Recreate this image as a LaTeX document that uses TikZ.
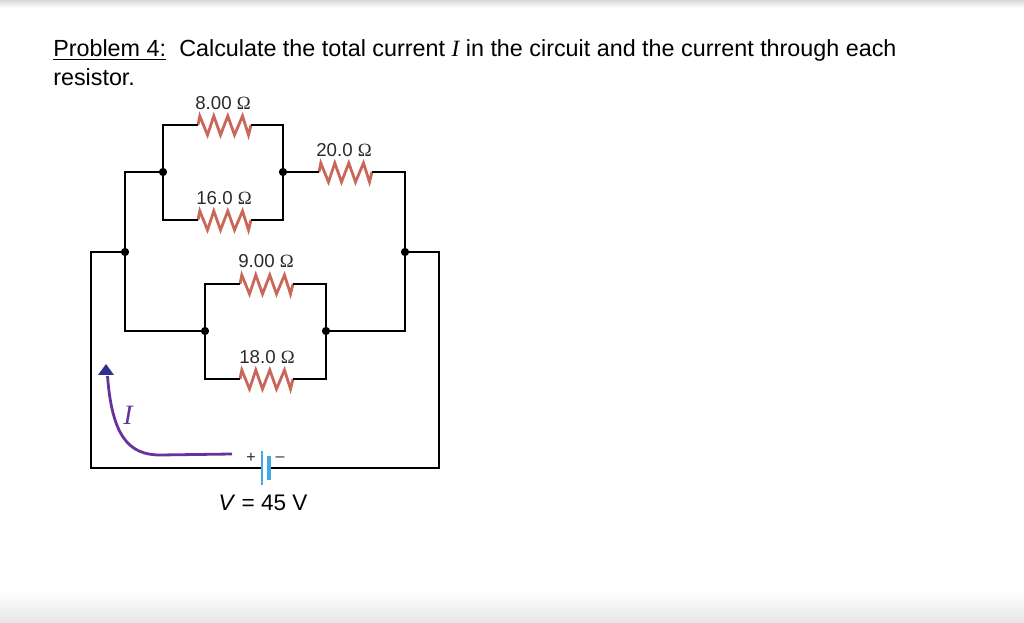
\documentclass[tikz,border=0pt]{standalone}
\usepackage{fontspec}
\setmainfont{Liberation Sans}
\newfontfamily\seriffont{Liberation Serif}
\definecolor{wirered}{HTML}{C9685A}
\definecolor{batblue}{HTML}{45A9E1}
\definecolor{curpurple}{HTML}{66329C}
\definecolor{tipblue}{HTML}{2E3192}
\definecolor{labelgray}{HTML}{2A2A2A}
\begin{document}
\begin{tikzpicture}
    [x=0.75pt,y=-0.75pt,
    title/.style={anchor=base west,inner sep=0pt,font=\fontsize{17.5}{20}\selectfont},
    value/.style={inner sep=0pt,text=labelgray,font=\fontsize{14}{16}\selectfont},
    junction/.style={circle,fill=black,inner sep=0pt,minimum size=6.2pt},
    wire/.style={draw,line width=1.5pt,line join=miter},
    plate/.style={fill=batblue,inner sep=0pt},
    sign/.style={inner sep=0pt,text=labelgray,font=\fontsize{12}{14}\selectfont},
    zig/.pic={\draw[wirered,line width=2.1pt,line join=miter]
      (0,0) -- (1.8,-9) -- (9.5,10) -- (15.8,-9) -- (22.5,10) -- (29.8,-9)
      -- (36.5,10) -- (44.5,-9) -- (50.5,10) -- (53,0);}]

    \useasboundingbox (0,0) rectangle (1024,623);
    \shade[top color=black!15,bottom color=white] (0,0) rectangle (1024,8);
    \shade[top color=white,bottom color=black!10] (0,590) rectangle (1024,623);

    \node[title] (problem) at (53,57) {\underline{Problem 4:}};
    \node[title] (question) at (179,57) {Calculate the total current {\seriffont\itshape I} in the circuit and the current through each};
    \node[title] (resistor) at (53,86) {resistor.};

    \node[junction] (jA) at (163,172) {};
    \node[junction] (jB) at (283,172) {};
    \node[junction] (jC) at (125,252) {};
    \node[junction] (jD) at (405,252) {};
    \node[junction] (jE) at (205,331) {};
    \node[junction] (jF) at (326,331) {};

    \coordinate (r8in) at (198,125);
    \coordinate (r8out) at (251,125);
    \coordinate (r16in) at (198,220);
    \coordinate (r16out) at (251,220);
    \coordinate (r20in) at (319,172);
    \coordinate (r20out) at (372,172);
    \coordinate (r9in) at (240,284);
    \coordinate (r9out) at (293,284);
    \coordinate (r18in) at (240,379);
    \coordinate (r18out) at (293,379);
    \coordinate (cornerL) at (91,468);
    \coordinate (cornerR) at (439,468);
    \coordinate (batP) at (262,468);
    \coordinate (batN) at (269,468);

    \pic at (r8in) {zig};
    \pic at (r16in) {zig};
    \pic at (r20in) {zig};
    \pic at (r9in) {zig};
    \pic at (r18in) {zig};

    \node[value] (v8) at (223,103) {8.00 {\seriffont Ω}};
    \node[value] (v16) at (224,198) {16.0 {\seriffont Ω}};
    \node[value] (v20) at (344,150) {20.0 {\seriffont Ω}};
    \node[value] (v9) at (266,261) {9.00 {\seriffont Ω}};
    \node[value] (v18) at (267,357) {18.0 {\seriffont Ω}};

    \path[wire] (jA) |- (r8in);
    \path[wire] (r8out) -| (jB);
    \path[wire] (jA) |- (r16in);
    \path[wire] (r16out) -| (jB);
    \path[wire] (jB) -- (r20in);
    \path[wire] (r20out) -| (jD);
    \path[wire] (jA) -| (jC);
    \path[wire] (jC) |- (jE);
    \path[wire] (jD) |- (jF);
    \path[wire] (jE) |- (r9in);
    \path[wire] (r9out) -| (jF);
    \path[wire] (jE) |- (r18in);
    \path[wire] (r18out) -| (jF);
    \path[wire] (jC) -| (cornerL) -- (batP);
    \path[wire] (jD) -| (cornerR) -- (batN);

    \node[plate,minimum width=1.2pt,minimum height=25pt] (thin) at (batP) {};
    \node[plate,minimum width=3pt,minimum height=18pt] (thick) at (batN) {};
    \node[sign] (plus) at (251,458) {+};
    \node[sign] (minus) at (280,459) {–};
    \node[inner sep=0pt,font=\fontsize{16.9}{20}\selectfont] (volt) at (263,503) {\textit{V} = 45 V};

    \coordinate (curstart) at (232,454);
    \coordinate (curend) at (107.5,376);
    \draw[curpurple,line width=2.1pt] (curstart) -- (160,455)
      .. controls (128,455) and (112,435) .. (curend);
    \fill[tipblue] (98,375) -- (106,364) -- (114,375) -- cycle;
    \node[inner sep=0pt,text=curpurple,font=\seriffont\itshape\fontsize{21}{24}\selectfont] (cur) at (128,415) {I};
  \end{tikzpicture}
\end{document}
